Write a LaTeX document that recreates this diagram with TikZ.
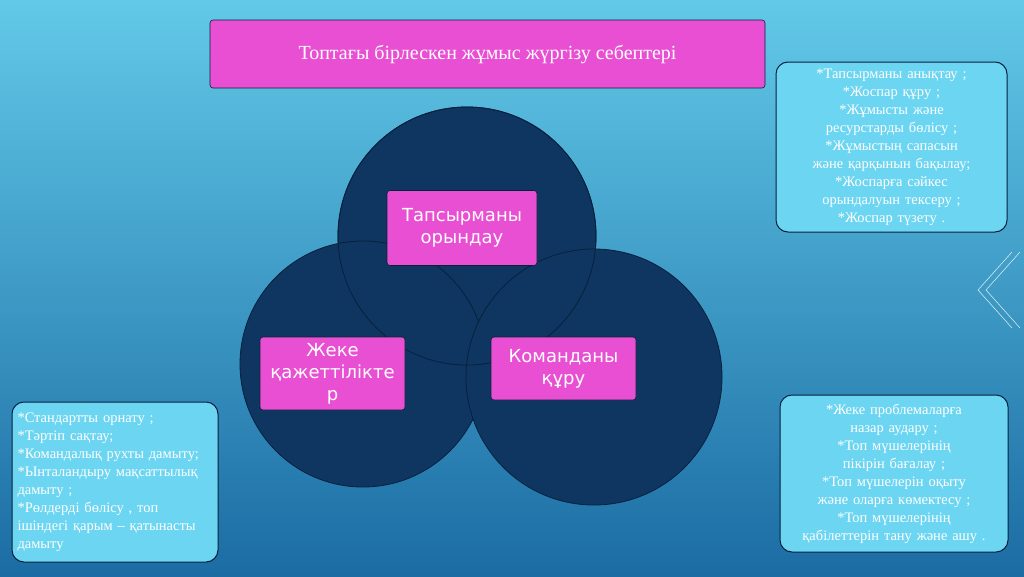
\documentclass[tikz,border=0pt]{standalone}
\usepackage{fontspec}
\setmainfont{Liberation Serif}
\newfontfamily\pinkfont{DejaVu Sans}
\definecolor{bgtop}{HTML}{62C9E8}
\definecolor{bgbot}{HTML}{1B6CA3}
\definecolor{ring}{HTML}{0E3660}
\definecolor{ringline}{HTML}{08203D}
\definecolor{pinkbox}{HTML}{E84FD2}
\definecolor{notebox}{HTML}{6CD5F1}
\tikzset{
  ringcirc/.style={circle,fill=ring,draw=ringline,line width=0.8pt},
  pinkcard/.style={fill=pinkbox,draw=ringline,line width=0.6pt,rounded corners=3pt,text=white,align=center,font=\pinkfont\fontsize{18}{22}\selectfont},
  notecard/.style={fill=notebox,draw=ringline,line width=1pt,rounded corners=12pt,text=white,align=center,font=\fontsize{14.5}{18}\selectfont,inner sep=0pt}
}
\begin{document}
\begin{tikzpicture}[x=1pt,y=-1pt]
\shade[top color=bgtop,bottom color=bgbot] (0,0) rectangle (1024,576);
\useasboundingbox (0,0) rectangle (1024,576);
% chevrons at the right edge
\draw[white!80!bgtop,line width=0.5pt] (1012,252) -- (978,290) -- (1012,328);
\draw[white!80!bgtop,line width=0.5pt] (1020,252) -- (986,290) -- (1020,328);
% circles
\node[ringcirc,minimum size=258] (top) at (467,236) {};
\node[ringcirc,minimum size=246] (left) at (363,364) {};
\node[ringcirc,minimum size=256] (right) at (594,377) {};
\draw[ringline,line width=0.8pt] (top.center) circle (129);
% title
\node[pinkcard,minimum width=555,minimum height=68,font=\fontsize{20}{24}\selectfont] (title) at (487.5,54) {Топтағы бірлескен жұмыс жүргізу себептері};
% labels in circles
\node[pinkcard,minimum width=150,minimum height=75] (task) at (462,228) {Тапсырманы\\орындау};
\node[pinkcard,minimum width=145,minimum height=73] (need) at (332.5,373.5) {Жеке\\қажеттілікте\\р};
\node[pinkcard,minimum width=145,minimum height=63] (team) at (563.5,368.5) {Команданы\\құру};
% note cards
\node[notecard,minimum width=231,minimum height=170,text width=215] (notetask) at (891.5,147) {*Тапсырманы анықтау ;\\{}*Жоспар құру ;\\{}*Жұмысты және ресурстарды бөлісу ;\\{}*Жұмыстың сапасын және қарқынын бақылау;\\{}*Жоспарға сәйкес орындалуын тексеру ;\\{}*Жоспар түзету .};
\node[notecard,minimum width=206,minimum height=160,text width=195,align=left] (noteneed) at (115,482) {*Стандартты орнату ;\\{}*Тәртіп сақтау;\\{}*Командалық рухты дамыту;\\{}*Ынталандыру мақсаттылық дамыту ;\\{}*Рөлдерді бөлісу , топ ішіндегі қарым – қатынасты дамыту};
\node[notecard,minimum width=228,minimum height=157,text width=212] (noteteam) at (894,473.5) {*Жеке проблемаларға назар аудару ;\\{}*Топ мүшелерінің пікірін бағалау ;\\{}*Топ мүшелерін оқыту және оларға көмектесу ;\\{}*Топ мүшелерінің қабілеттерін тану және ашу .};
\end{tikzpicture}
\end{document}
